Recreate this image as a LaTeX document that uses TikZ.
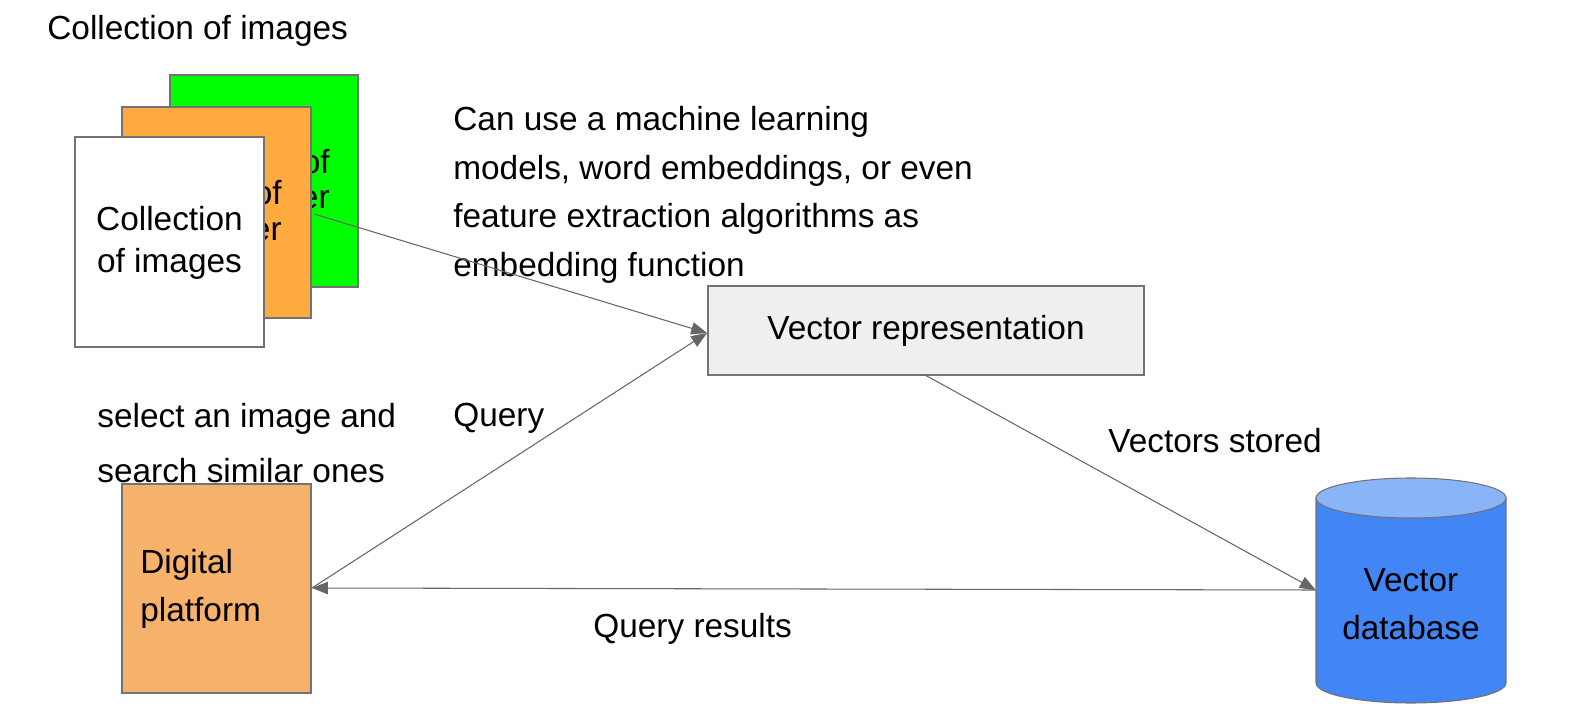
\documentclass[tikz,border=0pt]{standalone}
\usepackage{fontspec}
\setmainfont{Liberation Sans}
\usetikzlibrary{arrows.meta}
\begin{document}
\begin{tikzpicture}[x=0.02cm,y=-0.02cm,
  txt/.style={font=\fontsize{19}{23.5}\selectfont,inner sep=0pt},
  card/.style={draw=black!55,line width=0.6pt},
  conn/.style={draw=black!60,line width=0.6pt,-{Triangle[length=9pt,width=7pt]}}]
\useasboundingbox (0,0) rectangle (1580,726);
\node[txt,anchor=west] (t1) at (47,31) {Collection of images};
\draw[card,fill={rgb,255:red,0;green,255;blue,0}] (170,75) rectangle (358,287);
\node[txt,anchor=east] (g1) at (330,162) {of};
\node[txt,anchor=east] (g2) at (330,200) {er};
\draw[card,fill={rgb,255:red,255;green,171;blue,64}] (122,107) rectangle (311,318);
\node[txt,anchor=east] (o1) at (282,193) {of};
\node[txt,anchor=east] (o2) at (282,232) {er};
\node[card,fill=white,minimum width=189*0.02cm,minimum height=210*0.02cm,inner sep=0pt] (img) at (169.5,242) {};
\node[txt,align=center] (imgt) at (169.5,243) {Collection\\of images};
\node[txt,align=left,anchor=north west,font=\fontsize{19}{27.6}\selectfont] (desc) at (453,106) {Can use a machine learning\\models, word embeddings, or even\\feature extraction algorithms as\\embedding function};
\node[card,fill={rgb,255:red,239;green,239;blue,239},minimum width=436*0.02cm,minimum height=89*0.02cm,inner sep=0pt] (vr) at (926,330.5) {};
\node[txt] at (vr) {Vector representation};
\node[txt,align=left,anchor=north west,font=\fontsize{19}{31}\selectfont] (sel) at (97,403) {select an image and\\search similar ones};
\node[txt,anchor=west] (q) at (453,418) {Query};
\node[card,fill={rgb,255:red,246;green,178;blue,107},minimum width=189*0.02cm,minimum height=209*0.02cm,inner sep=0pt] (dp) at (216.5,588.5) {};
\node[txt,align=left,anchor=west,font=\fontsize{19}{27.6}\selectfont] at (140,589) {Digital\\platform};
\path[card,fill={rgb,255:red,66;green,133;blue,244}] (1316,498) -- (1316,683) arc[start angle=180,end angle=360,x radius=95,y radius=-20] -- (1506,498) -- cycle;
\draw[card,fill={rgb,255:red,138;green,180;blue,248}] (1411,498) ellipse[x radius=95,y radius=-20];
\node[inner sep=0pt,minimum width=190*0.02cm,minimum height=225*0.02cm] (db) at (1411,590) {};
\node[txt,align=center,font=\fontsize{19}{27.6}\selectfont] at (1411,604) {Vector\\database};
\node[txt,anchor=west] (vs) at (1108,441) {Vectors stored};
\node[txt,anchor=west] (qr) at (593,629) {Query results};
\coordinate (a1) at (314,214);
\coordinate (vrw) at (707,333);
\coordinate (vrb) at (925,375);
\coordinate (dbw) at (db.west);
\coordinate (dpe) at (312,588);
\draw[conn] (a1) -- (vrw);
\draw[conn] (dpe) -- (vrw);
\draw[conn] (vrb) -- (dbw);
\draw[conn] (dbw) -- (dpe);
\end{tikzpicture}
\end{document}
